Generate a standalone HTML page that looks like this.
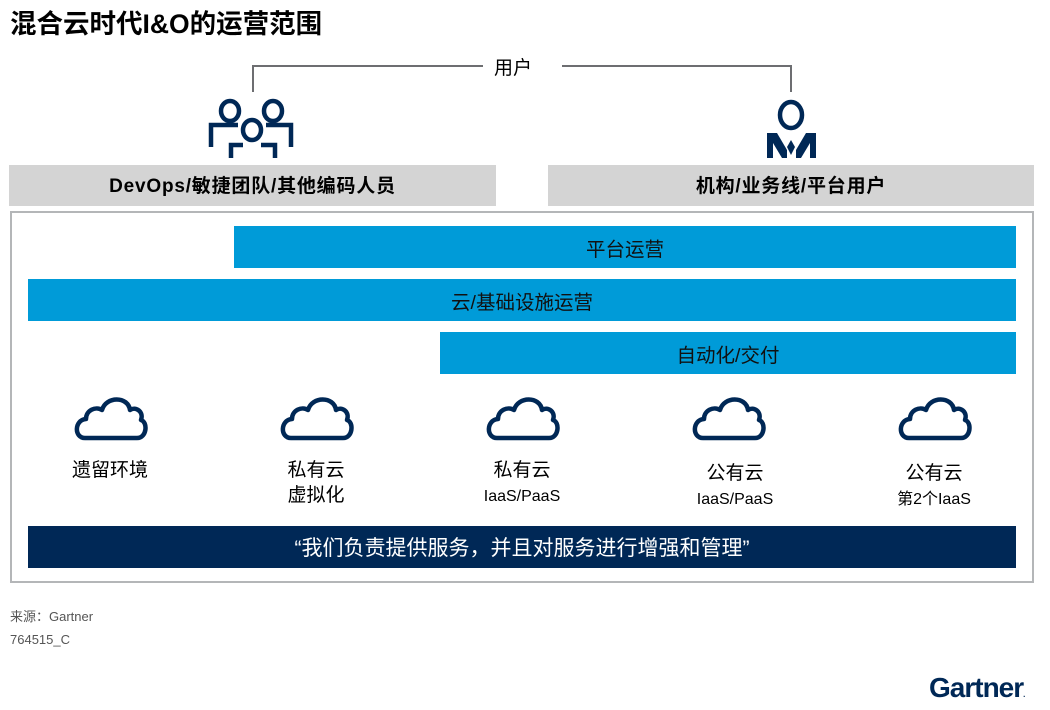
<!DOCTYPE html>
<html><head><meta charset="utf-8"><style>
*{margin:0;padding:0;box-sizing:border-box}
body{width:1050px;height:710px;background:#fff;position:relative;overflow:hidden;font-family:"Liberation Sans","Noto Sans CJK SC",sans-serif;color:#000}
.a{position:absolute}
.gray{background:#d4d4d4;font-weight:bold;font-size:19px;letter-spacing:0.8px;display:flex;align-items:center;justify-content:center;padding-bottom:2px}
.blue{background:#009bd8;font-size:19.5px;display:flex;align-items:center;justify-content:center;color:#111}
.lbl{position:absolute;width:160px;text-align:center;font-size:19px;line-height:25px}
.sm{font-size:16px}
</style></head><body>
<div class="a" style="left:10px;top:2px;font-size:26.5px;font-weight:bold;letter-spacing:0px">混合云时代I&amp;O的运营范围</div>
<svg class="a" style="left:0;top:0" width="1050" height="710">
<path d="M253 92 V66 H483 M562 66 H791 V92" fill="none" stroke="#6d6e71" stroke-width="2"/>
<g fill="none" stroke="#002856" stroke-width="4.5">
<ellipse cx="230" cy="111" rx="9" ry="10"/><ellipse cx="273" cy="111" rx="9" ry="10"/><ellipse cx="252" cy="130" rx="9" ry="10"/>
<path d="M211 147 V125 H238 M266 125 H291 V147 M231 158 V145 H243 M261 145 H275 V158"/>
<ellipse cx="791" cy="115" rx="11" ry="13"/>
</g>
<path d="M767 133 H777 L787 150 L787 158 H782 L773 143 V158 H767 Z M816 133 H806 L796 150 L796 158 H801 L810 143 V158 H816 Z" fill="#002856"/>
<path d="M791 140 L795 147 L791 155 L787 147Z" fill="#002856"/>
</svg>
<div class="a" style="left:494px;top:53px;font-size:19px">用户</div>
<div class="a gray" style="left:9px;top:165px;width:487px;height:41px">DevOps/敏捷团队/其他编码人员</div>
<div class="a gray" style="left:548px;top:165px;width:486px;height:41px">机构/业务线/平台用户</div>
<div class="a" style="left:10px;top:211px;width:1024px;height:372px;border:2px solid #b4b6b8"></div>
<div class="a blue" style="left:234px;top:226px;width:782px;height:42px">平台运营</div>
<div class="a blue" style="left:28px;top:279px;width:988px;height:42px">云/基础设施运营</div>
<div class="a blue" style="left:440px;top:332px;width:576px;height:42px">自动化/交付</div>
<svg class="a" style="left:0;top:390px" width="1050" height="60">
<defs><path id="cl" d="M-25 48 C-36 48 -36 30 -24 29 C-24 20 -14 16 -8 20 C-4 6 18 6 20 20 C26 16 34 22 31 30 C38 32 37 48 27 48 Z" fill="none" stroke="#002856" stroke-width="4.5" stroke-linejoin="round"/></defs>
<use href="#cl" x="110"/><use href="#cl" x="316"/><use href="#cl" x="522"/><use href="#cl" x="728"/><use href="#cl" x="934"/>
</svg>
<div class="lbl" style="left:30px;top:458px">遗留环境</div>
<div class="lbl" style="left:236px;top:458px">私有云<br>虚拟化</div>
<div class="lbl" style="left:442px;top:458px">私有云<br><span class="sm">IaaS/PaaS</span></div>
<div class="lbl" style="left:655px;top:461px">公有云<br><span class="sm">IaaS/PaaS</span></div>
<div class="lbl" style="left:854px;top:461px">公有云<br><span class="sm">第2个IaaS</span></div>
<div class="a" style="left:28px;top:526px;width:988px;height:42px;background:#002856;color:#fff;font-size:21px;display:flex;align-items:center;justify-content:center">“我们负责提供服务，并且对服务进行增强和管理”</div>
<div class="a" style="left:10px;top:606px;font-size:13px;color:#555">来源：Gartner</div>
<div class="a" style="left:10px;top:632px;font-size:13px;color:#555">764515_C</div>
<div class="a" style="left:929px;top:672px;font-size:28px;font-weight:bold;color:#002856;letter-spacing:-1px">Gartner<span style="font-size:8px">.</span></div>
</body></html>
